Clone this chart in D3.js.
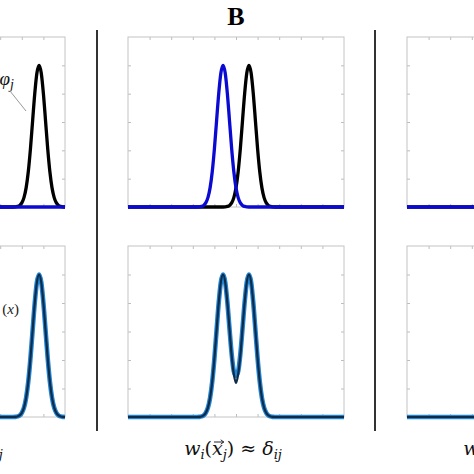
<!DOCTYPE html>
<html>
<head>
<meta charset="utf-8">
<script src="https://cdn.jsdelivr.net/npm/d3@7"></script>
<style>
  html, body { margin: 0; padding: 0; background: #fff; }
  svg { display: block; }
</style>
</head>
<body>
<svg id="chart" width="474" height="474"></svg>
<script>
// panel titles (A and C sit outside the crop, like in the picture)
const panelTitles = ["A", "B", "C"];
const xTicks = [-4, -3, -2, -1, 0, 1, 2, 3, 4];
const yTicks = [0.2, 0.4, 0.6, 0.8, 1.0];

// --- panel A (left) ---
const topBlackA = [[-5,0],[2.6,0],[2.7,0.001],[2.8,0.004],[2.9,0.011],[3.0,0.029],[3.1,0.066],[3.2,0.135],[3.3,0.249],[3.4,0.411],[3.5,0.607],[3.6,0.801],[3.7,0.946],[3.8,1.0],[3.9,0.946],[4.0,0.801],[4.1,0.607],[4.2,0.411],[4.3,0.249],[4.4,0.135],[4.5,0.066],[4.6,0.029],[4.7,0.011],[4.8,0.004],[4.9,0.001],[5.0,0]];
const topBlueA = [[-5,0],[5,0]];
const botBlueA = [[-5,0],[2.6,0],[2.7,0.001],[2.8,0.004],[2.9,0.011],[3.0,0.029],[3.1,0.066],[3.2,0.135],[3.3,0.249],[3.4,0.411],[3.5,0.607],[3.6,0.801],[3.7,0.946],[3.8,1.0],[3.9,0.946],[4.0,0.801],[4.1,0.607],[4.2,0.411],[4.3,0.249],[4.4,0.135],[4.5,0.066],[4.6,0.029],[4.7,0.011],[4.8,0.004],[4.9,0.001],[5.0,0]];
const botDarkA = botBlueA;

// --- panel B (middle) ---
const topBlueB = [[-5,0],[-1.8,0],[-1.7,0.001],[-1.6,0.004],[-1.5,0.011],[-1.4,0.029],[-1.3,0.066],[-1.2,0.135],[-1.1,0.249],[-1.0,0.411],[-0.9,0.607],[-0.8,0.801],[-0.7,0.946],[-0.6,1.0],[-0.5,0.946],[-0.4,0.801],[-0.3,0.607],[-0.2,0.411],[-0.1,0.249],[0,0.135],[0.1,0.066],[0.2,0.029],[0.3,0.011],[0.4,0.004],[0.5,0.001],[0.6,0],[5,0]];
const topBlackB = [[-5,0],[-0.6,0],[-0.5,0.001],[-0.4,0.004],[-0.3,0.011],[-0.2,0.029],[-0.1,0.066],[0,0.135],[0.1,0.249],[0.2,0.411],[0.3,0.607],[0.4,0.801],[0.5,0.946],[0.6,1.0],[0.7,0.946],[0.8,0.801],[0.9,0.607],[1.0,0.411],[1.1,0.249],[1.2,0.135],[1.3,0.066],[1.4,0.029],[1.5,0.011],[1.6,0.004],[1.7,0.001],[1.8,0],[5,0]];
const botBlueB = [[-5,0],[-1.8,0],[-1.7,0.001],[-1.6,0.004],[-1.5,0.011],[-1.4,0.029],[-1.3,0.066],[-1.2,0.135],[-1.1,0.249],[-1.0,0.411],[-0.9,0.607],[-0.8,0.802],[-0.7,0.947],[-0.6,1.0],[-0.5,0.947],[-0.4,0.805],[-0.3,0.618],[-0.2,0.44],[-0.1,0.32],[0,0.29],[0.1,0.32],[0.2,0.44],[0.3,0.618],[0.4,0.805],[0.5,0.947],[0.6,1.0],[0.7,0.947],[0.8,0.802],[0.9,0.607],[1.0,0.411],[1.1,0.249],[1.2,0.135],[1.3,0.066],[1.4,0.029],[1.5,0.011],[1.6,0.004],[1.7,0.001],[1.8,0],[5,0]];
const botDarkB = [[-5,0],[-1.8,0],[-1.7,0.001],[-1.6,0.004],[-1.5,0.011],[-1.4,0.029],[-1.3,0.066],[-1.2,0.135],[-1.1,0.249],[-1.0,0.411],[-0.9,0.607],[-0.8,0.802],[-0.7,0.947],[-0.6,1.0],[-0.5,0.947],[-0.4,0.805],[-0.3,0.618],[-0.2,0.43],[-0.1,0.30],[0,0.24],[0.1,0.30],[0.2,0.43],[0.3,0.618],[0.4,0.805],[0.5,0.947],[0.6,1.0],[0.7,0.947],[0.8,0.802],[0.9,0.607],[1.0,0.411],[1.1,0.249],[1.2,0.135],[1.3,0.066],[1.4,0.029],[1.5,0.011],[1.6,0.004],[1.7,0.001],[1.8,0],[5,0]];

// --- panel C (right, mostly cropped away) ---
const topBlackC = [[-5,0],[5,0]];
const topBlueC = [[-5,0],[5,0]];
const botBlueC = [[-5,0],[5,0]];
const botDarkC = [[-5,0],[5,0]];

const panels = [
    { title: panelTitles[0], top: [topBlackA, topBlueA], bot: [botBlueA, botDarkA] },
    { title: panelTitles[1], top: [topBlackB, topBlueB], bot: [botBlueB, botDarkB] },
    { title: panelTitles[2], top: [topBlackC, topBlueC], bot: [botBlueC, botDarkC] }
];

const svg = d3.select("#chart");
svg.append("rect").attr("width", 474).attr("height", 474).attr("fill", "#fff");

const panelW = 216, panelStep = 279, panelX0 = -151;
const rows = [{ top: 37, bottom: 207 }, { top: 246, bottom: 417 }];

const x = d3.scaleLinear().domain([-5, 5]).range([0, panelW]);

function drawAxesBox(g, h) {
    const y = d3.scaleLinear().domain([0, 1.2]).range([h, 0]);
    const tickCol = "#bdbdbd";
    const addAxis = (axis, tr) => {
        const a = g.append("g").attr("transform", tr).call(axis);
        a.select(".domain").remove();
        a.selectAll("line").attr("stroke", tickCol);
        a.selectAll("text").remove();
    };
    addAxis(d3.axisTop(x).tickValues(xTicks).tickSize(-3), "translate(0,0)");
    addAxis(d3.axisBottom(x).tickValues(xTicks).tickSize(-3), `translate(0,${h})`);
    addAxis(d3.axisLeft(y).tickValues(yTicks).tickSize(-3), "translate(0,0)");
    addAxis(d3.axisRight(y).tickValues(yTicks).tickSize(-3), `translate(${panelW},0)`);
    g.append("rect").attr("width", panelW).attr("height", h)
        .attr("fill", "none").attr("stroke", "#c4c4c4").attr("stroke-width", 1);
    return y;
}

panels.forEach((p, i) => {
    const px = panelX0 + i * panelStep;

    // top row: black and blue basis curves
    const h1 = rows[0].bottom - rows[0].top;
    const g1 = svg.append("g").attr("transform", `translate(${px},${rows[0].top})`);
    const y1 = drawAxesBox(g1, h1);
    const line1 = d3.line().x(d => x(d[0])).y(d => y1(d[1])).curve(d3.curveMonotoneX);
    g1.append("path").datum(p.top[0]).attr("d", line1)
        .attr("fill", "none").attr("stroke", "#000").attr("stroke-width", 3.3);
    g1.append("path").datum(p.top[1]).attr("d", line1)
        .attr("fill", "none").attr("stroke", "#0a0ad2").attr("stroke-width", 3.3);

    // bottom row: thick blue with thin dark line on top
    const h2 = rows[1].bottom - rows[1].top;
    const g2 = svg.append("g").attr("transform", `translate(${px},${rows[1].top})`);
    const y2 = drawAxesBox(g2, h2);
    const line2 = d3.line().x(d => x(d[0])).y(d => y2(d[1])).curve(d3.curveMonotoneX);
    g2.append("path").datum(p.bot[0]).attr("d", line2)
        .attr("fill", "none").attr("stroke", "#2384d2").attr("stroke-width", 4.6);
    g2.append("path").datum(p.bot[1]).attr("d", line2)
        .attr("fill", "none").attr("stroke", "#0c2c4c").attr("stroke-width", 2.2);

    const cx = px + panelW / 2;
    svg.append("text").attr("x", cx).attr("y", 25)
        .attr("text-anchor", "middle")
        .style("font-family", "'Liberation Serif', 'Times New Roman', serif")
        .style("font-weight", "bold").style("font-size", "26px")
        .text(p.title);

    // w_i(x_j) ≈ δ_ij
    const lab = svg.append("text").attr("x", cx - 3).attr("y", 455)
        .attr("text-anchor", "middle")
        .style("font-family", "'DejaVu Serif', 'Liberation Serif', serif")
        .style("font-size", "19px").attr("fill", "#111");
    lab.append("tspan").style("font-style", "italic").text("w");
    lab.append("tspan").attr("dy", 4).style("font-size", "13px").style("font-style", "italic").text("i");
    lab.append("tspan").attr("dy", -4).text("(");
    lab.append("tspan").style("font-style", "italic").text("x");
    lab.append("tspan").attr("dy", 4).style("font-size", "13px").style("font-style", "italic").text("j");
    lab.append("tspan").attr("dy", -4).text(") \u2248 ");
    lab.append("tspan").style("font-style", "italic").text("\u03B4");
    lab.append("tspan").attr("dy", 4).style("font-size", "13px").style("font-style", "italic").text("ij");

    // small vector arrow over the x
    const ext = lab.node().getExtentOfChar(3);
    const ax0 = ext.x + 2, ax1 = ext.x + ext.width + 1, ay = ext.y + 5;
    svg.append("path")
        .attr("d", `M${ax0},${ay}H${ax1}M${ax1 - 3},${ay - 2.2}L${ax1},${ay}L${ax1 - 3},${ay + 2.2}`)
        .attr("fill", "none").attr("stroke", "#111").attr("stroke-width", 0.9);
});

// vertical dividers
[97, 375].forEach(d => {
    svg.append("line").attr("x1", d).attr("x2", d).attr("y1", 30).attr("y2", 431)
        .attr("stroke", "#333").attr("stroke-width", 2);
});

// cropped annotations on the left panel
const phi = svg.append("text").attr("x", 14).attr("y", 85).attr("text-anchor", "end")
    .style("font-family", "'Liberation Serif', serif").style("font-style", "italic")
    .style("font-size", "19px").attr("fill", "#111");
phi.append("tspan").text("\u03C6");
phi.append("tspan").attr("dy", 4).style("font-size", "14px").text("j");
svg.append("line").attr("x1", 10).attr("y1", 91).attr("x2", 26).attr("y2", 111)
    .attr("stroke", "#999").attr("stroke-width", 1);

svg.append("text").attr("x", 19).attr("y", 314).attr("text-anchor", "end")
    .style("font-family", "'Liberation Serif', serif").style("font-size", "15px")
    .attr("fill", "#222")
    .html("(<tspan font-style='italic'>x</tspan>)");
</script>
</body>
</html>
